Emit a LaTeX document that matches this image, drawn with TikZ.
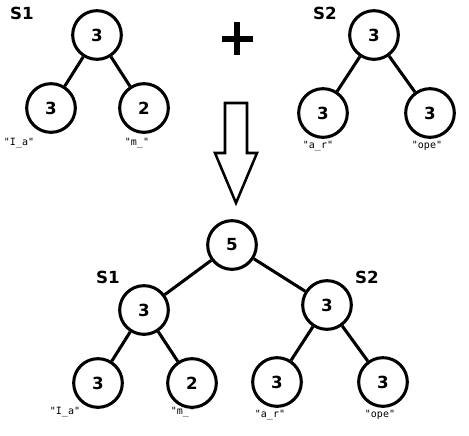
\documentclass[tikz,border=0pt]{standalone}
\usepackage{fontspec}
\setmainfont{DejaVu Sans}
\newfontfamily\strfont{DejaVu Sans Mono}
\usetikzlibrary{positioning}
\tikzset{
  nd/.style={draw, circle, line width=2.3pt, minimum size=36.5pt, inner sep=0pt, font=\bfseries\fontsize{12.5}{14}\selectfont},
  edg/.style={line width=2.3pt},
  sname/.style={font=\bfseries\fontsize{12.5}{14}\selectfont},
  str/.style={font=\strfont\fontsize{7.5}{8}\selectfont},
}

\begin{document}
\begin{tikzpicture}[x=0.75pt, y=-0.75pt]
\useasboundingbox (0,0) rectangle (469,436);

% Tree S1
\node[sname] (s1top) at (22,13) {S1};
\node[nd] (r1) at (97,35) {3};
\node[nd] (a1) at (51,108) {3};
\node[nd] (b1) at (144,108) {2};
\draw[edg] (r1) -- (a1);
\draw[edg] (r1) -- (b1);
\node[str] (la1) at (19,143) {"I\_a"};
\node[str] (lb1) at (137,143) {"m\_"};

% Tree S2
\node[sname] (s2top) at (325,13) {S2};
\node[nd] (r2) at (374,35) {3};
\node[nd] (a2) at (323,113) {3};
\node[nd] (b2) at (430,113) {3};
\draw[edg] (r2) -- (a2);
\draw[edg] (r2) -- (b2);
\node[str] (la2) at (318,146) {"a\_r"};
\node[str] (lb2) at (427,146) {"ope"};

% Plus and arrow
\draw[line width=4.5pt] (222,39) -- (253,39);
\draw[line width=4.5pt] (237,22) -- (237,55);
\draw[line width=1.9pt, line join=miter]
  (225,103) -- (247,103) -- (247,153) -- (257,153) -- (236,203)
  -- (215,153) -- (225,153) -- cycle;

% Merged tree
\node[nd] (top) at (232,245) {5};
\node[sname] (s1bot) at (108,277) {S1};
\node[sname] (s2bot) at (367,277) {S2};
\node[nd] (c1) at (144,310) {3};
\node[nd] (c2) at (327,305) {3};
\node[nd] (d1) at (98,383) {3};
\node[nd] (d2) at (192,383) {2};
\node[nd] (d3) at (277,382) {3};
\node[nd] (d4) at (383,382) {3};
\draw[edg] (top) -- (c1);
\draw[edg] (top) -- (c2);
\draw[edg] (c1) -- (d1);
\draw[edg] (c1) -- (d2);
\draw[edg] (c2) -- (d3);
\draw[edg] (c2) -- (d4);
\node[str] (ld1) at (65,412) {"I\_a"};
\node[str] (ld2) at (183,412) {"m\_"};
\node[str] (ld3) at (270,415) {"a\_r"};
\node[str] (ld4) at (380,415) {"ope"};

\end{tikzpicture}
\end{document}
